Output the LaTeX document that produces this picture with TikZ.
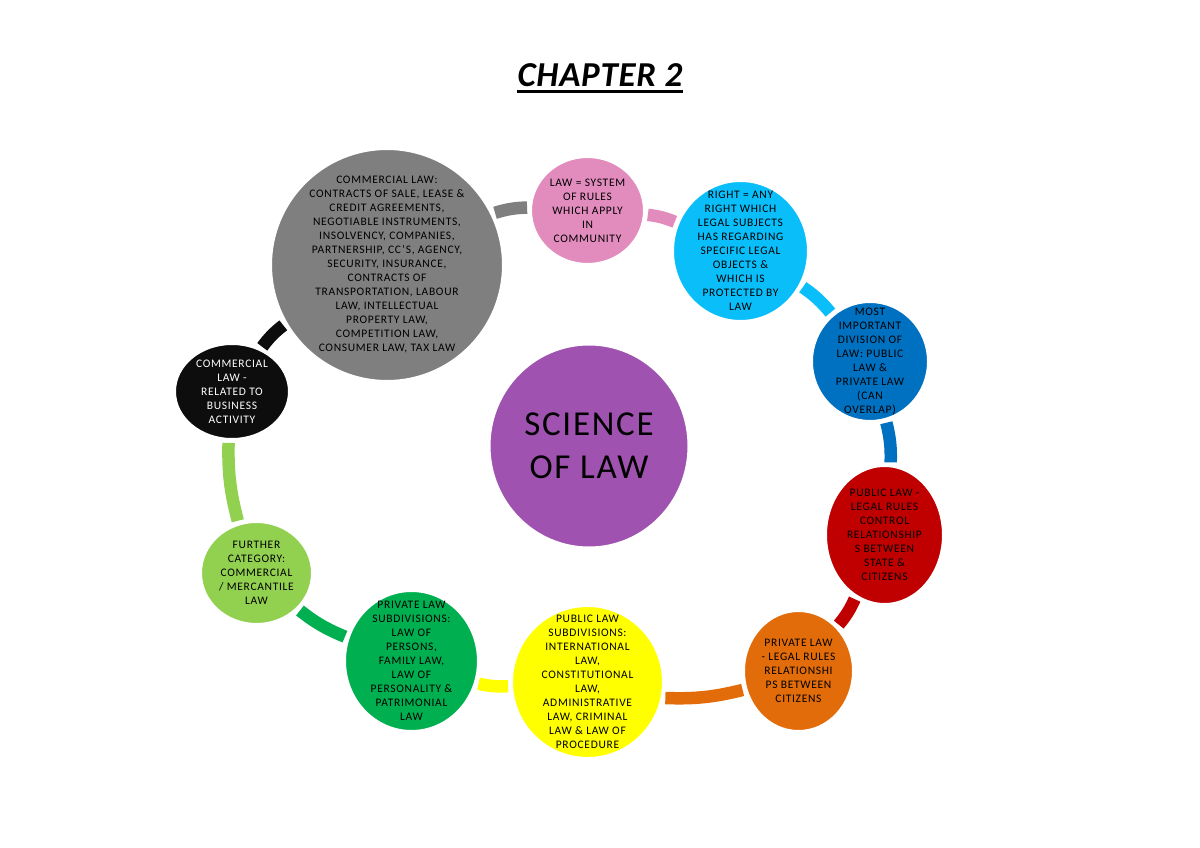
\documentclass[tikz,border=0pt]{standalone}
\usepackage{fontspec}
\setmainfont{Carlito}[LetterSpace=6]
\newfontfamily\titlefont{Carlito}[LetterSpace=2]
\newfontfamily\bigfont{Carlito}[LetterSpace=5]
\usetikzlibrary{shapes.geometric,backgrounds}
\definecolor{cgray}{RGB}{127,127,127}
\definecolor{cpink}{RGB}{226,140,190}
\definecolor{clblue}{RGB}{10,190,250}
\definecolor{cblue}{RGB}{0,112,192}
\definecolor{cred}{RGB}{192,0,0}
\definecolor{corange}{RGB}{227,108,10}
\definecolor{cyellow}{RGB}{255,255,0}
\definecolor{cgreen}{RGB}{0,176,80}
\definecolor{clgreen}{RGB}{146,208,80}
\definecolor{cblack}{RGB}{13,13,13}
\definecolor{cpurple}{RGB}{160,82,176}
\begin{document}
\begin{tikzpicture}[x=1pt,y=-1pt,
  bub/.style={ellipse, inner sep=-40pt, draw=white, line width=2pt, text=black,
    align=center, font=\fontsize{11.5}{14}\selectfont},
  link/.style={line width=12.5pt, shorten <=3pt, shorten >=3pt},
]
\useasboundingbox (0,0) rectangle (1200,848);

\node[anchor=base, inner sep=0pt, font=\titlefont\fontsize{35}{40}\selectfont\bfseries\itshape] (title) at (600,87) {CHAPTER 2};
\draw[line width=3pt] ([yshift=-4.5pt]title.base west) -- ([yshift=-4.5pt]title.base east);

\node[bub, fill=cgray, minimum width=232pt, minimum height=232pt] (gray) at (387,265)
  {COMMERCIAL LAW:\\CONTRACTS OF SALE, LEASE \&\\CREDIT AGREEMENTS,\\NEGOTIABLE INSTRUMENTS,\\INSOLVENCY, COMPANIES,\\PARTNERSHIP, CC’S, AGENCY,\\SECURITY, INSURANCE,\\CONTRACTS OF\\TRANSPORTATION, LABOUR\\LAW, INTELLECTUAL\\PROPERTY LAW,\\COMPETITION LAW,\\CONSUMER LAW, TAX LAW};
\node[bub, fill=cpink, minimum width=113pt, minimum height=107pt] (pink) at (587.5,210.5)
  {LAW = SYSTEM\\OF RULES\\WHICH APPLY\\IN\\COMMUNITY};
\node[bub, fill=clblue, minimum width=135pt, minimum height=140pt] (lblue) at (740.5,251)
  {RIGHT = ANY\\RIGHT WHICH\\LEGAL SUBJECTS\\HAS REGARDING\\SPECIFIC LEGAL\\OBJECTS \&\\WHICH IS\\PROTECTED BY\\LAW};
\node[bub, fill=cblue, minimum width=116pt, minimum height=119pt] (blue) at (870,361.5)
  {MOST\\IMPORTANT\\DIVISION OF\\LAW: PUBLIC\\LAW \&\\PRIVATE LAW\\(CAN\\OVERLAP)};
\node[bub, fill=cred, minimum width=117pt, minimum height=138pt] (red) at (884.5,535)
  {PUBLIC LAW -\\LEGAL RULES\\CONTROL\\RELATIONSHIP\\S BETWEEN\\STATE \&\\CITIZENS};
\node[bub, fill=corange, minimum width=109pt, minimum height=120pt] (orange) at (798.5,671)
  {PRIVATE LAW\\- LEGAL RULES\\RELATIONSHI\\PS BETWEEN\\CITIZENS};
\node[bub, fill=cyellow, minimum width=151pt, minimum height=152pt] (yellow) at (587.5,682)
  {PUBLIC LAW\\SUBDIVISIONS:\\INTERNATIONAL\\LAW,\\CONSTITUTIONAL\\LAW,\\ADMINISTRATIVE\\LAW, CRIMINAL\\LAW \& LAW OF\\PROCEDURE};
\node[bub, fill=cgreen, minimum width=133pt, minimum height=140pt] (green) at (411.5,661)
  {PRIVATE LAW\\SUBDIVISIONS:\\LAW OF\\PERSONS,\\FAMILY LAW,\\LAW OF\\PERSONALITY \&\\PATRIMONIAL\\LAW};
\node[bub, fill=clgreen, minimum width=111pt, minimum height=102pt] (lgreen) at (256.5,573)
  {FURTHER\\CATEGORY:\\COMMERCIAL\\/ MERCANTILE\\LAW};
\node[bub, fill=cblack, text=white, minimum width=114pt, minimum height=95pt] (black) at (232,391.5)
  {COMMERCIAL\\LAW -\\RELATED TO\\BUSINESS\\ACTIVITY};
\node[bub, fill=cpurple, minimum width=199pt, minimum height=203pt, font=\bigfont\fontsize{35}{43}\selectfont] (sci) at (589,446)
  {SCIENCE\\OF LAW};

\begin{scope}[on background layer]
\fill[white] (0,0) rectangle (1200,848);
\draw[link, cgray]   (gray.26)    to[bend left=8] (pink.177);
\draw[link, cpink]   (pink.-4)    to[bend left=8] (lblue.156);
\draw[link, clblue]  (lblue.-30)  to[bend left=8] (blue.129);
\draw[link, cblue]   (blue.-75)   to[bend left=8] (red.85);
\draw[link, cred]    (red.-115)   to[bend left=8] (orange.49);
\draw[link, corange] (orange.199) to[bend left=8] (yellow.-12);
\draw[link, cyellow] (yellow.183) to[bend left=8] (green.-19);
\draw[link, cgreen]  (green.160)  to[bend left=8] (lgreen.-41);
\draw[link, clgreen] (lgreen.110) to[bend left=8] (black.-94);
\draw[link, cblack]  (black.56)   to[bend left=8] (gray.210);
\end{scope}
\end{tikzpicture}
\end{document}
